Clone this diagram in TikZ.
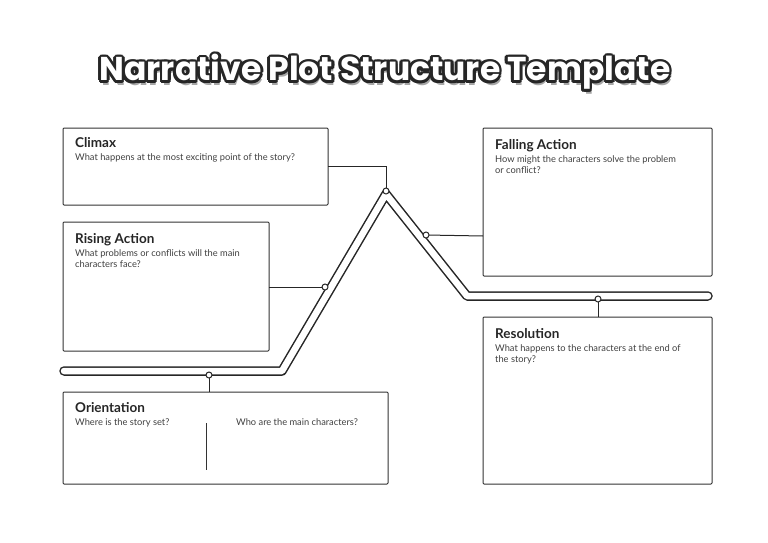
\documentclass[tikz,border=0pt]{standalone}
\usepackage{fontspec}
\usetikzlibrary{calc}
\setmainfont{Lato}
\newfontfamily\titlefont{Poppins}[BoldFont={* Bold}]
\begin{document}
\begin{tikzpicture}[x=1pt,y=-1pt,
  box/.style={draw=black!80,line width=1pt,rounded corners=1pt},
  head/.style={anchor=north west,font=\bfseries\fontsize{13.5}{14}\selectfont,text=black!85,inner sep=0},
  body/.style={anchor=north west,font=\fontsize{9.3}{11}\selectfont,text=black!75,inner sep=0,align=left},
  link/.style={draw=black!85,line width=1pt},
  dot/.style={circle,draw=black!85,fill=white,line width=1pt,minimum size=6pt,inner sep=0}]
\useasboundingbox (0,0) rectangle (768,543);
% title
\def\ttl{\titlefont\bfseries\fontsize{33}{36}\selectfont Narrative Plot Structure Template}
\node[text=black!35] at (387,77) {\ttl};
\foreach \a in {0,30,...,330}{\node[text=black!85] at ($(385,72)+(\a:2.8)$) {\ttl};}
\node[text=white] (title) at (385,72) {\ttl};
% boxes
\draw[box] (63,128) rectangle (328,205);
\node[head] (climax) at (75,137) {Climax};
\node[body] at (75,153) {What happens at the most exciting point of the story?};
\draw[box] (63,222) rectangle (269,351);
\node[head] (rising) at (75,233) {Rising Action};
\node[body] at (75,249) {What problems or conflicts will the main\\characters face?};
\draw[box] (63,392) rectangle (388,484);
\node[head] (orient) at (75,402) {Orientation};
\node[body] at (75,418) {Where is the story set?};
\node[body] at (236,418) {Who are the main characters?};
\draw[line width=0.8pt,black!80] (206,423) -- (206,470);
\draw[box] (483,128) rectangle (712,276);
\node[head] (falling) at (495,139) {Falling Action};
\node[body] at (495,155) {How might the characters solve the problem\\or conflict?};
\draw[box] (483,317) rectangle (712,484);
\node[head] (resol) at (495,328) {Resolution};
\node[body] at (495,344) {What happens to the characters at the end of\\the story?};
% track
\def\trk{(64,371) -- (282,371) -- (386,194) -- (467,296) -- (708,296)}
\draw[black!85,line width=9.5pt,line cap=round,line join=round] \trk;
\draw[white,line width=6.5pt,line cap=round,line join=round] \trk;
% connectors
\draw[link] (328,166) -- (386,166) -- (386,190);
\draw[link] (269,287) -- (325,287);
\draw[link] (483,236) -- (426,235);
\draw[link] (598,317) -- (598,300);
\draw[link] (209,392) -- (209,376);
\node[dot] at (386,191) {};
\node[dot] at (325,287) {};
\node[dot] at (426,235) {};
\node[dot] at (598,299) {};
\node[dot] at (209,375) {};
\end{tikzpicture}
\end{document}
